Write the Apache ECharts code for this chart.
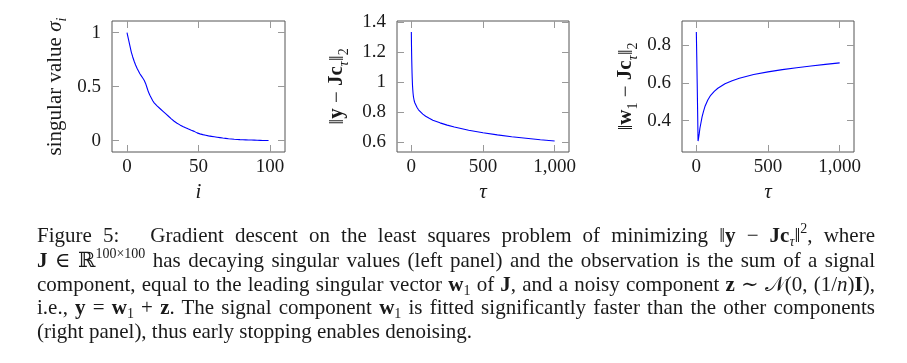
<!DOCTYPE html>
<html><head><meta charset="utf-8">
<script src="https://cdn.jsdelivr.net/npm/echarts@6/dist/echarts.min.js"></script>
<style>
html,body{margin:0;padding:0;background:#fff;}
#chart{position:absolute;left:0;top:0;width:907px;height:363px;}
.cap{position:absolute;left:37px;width:838px;font-family:'Liberation Serif','DejaVu Serif',serif;font-size:21px;line-height:24px;color:#1a1a1a;white-space:nowrap;}
.cap .t{display:inline-block;}
.cap sub,.cap sup{line-height:0;font-size:14px;}
.cap sub{vertical-align:-4px;}
.cap sup{vertical-align:9px;}
.cap .q{display:inline-block;width:20px;}
</style>
</head><body>
<div id="chart"></div>
<div class="cap j" style="top:223px"><span class="t">Figure 5:<span class="q"></span> Gradient descent on the least squares problem of minimizing ‖<b>y</b> − <b>Jc</b><sub><i>τ</i></sub>‖<sup>2</sup>, where</span></div>
<div class="cap j" style="top:248px"><span class="t"><b>J</b> ∈ ℝ<sup>100×100</sup> has decaying singular values (left panel) and the observation is the sum of a signal</span></div>
<div class="cap j" style="top:272px"><span class="t">component, equal to the leading singular vector <b>w</b><sub>1</sub> of <b>J</b>, and a noisy component <b>z</b> ∼ 𝒩(0, (1/<i>n</i>)<b>I</b>),</span></div>
<div class="cap j" style="top:295px"><span class="t">i.e., <b>y</b> = <b>w</b><sub>1</sub> + <b>z</b>. The signal component <b>w</b><sub>1</sub> is fitted significantly faster than the other components</span></div>
<div class="cap" style="top:319px"><span class="t">(right panel), thus early stopping enables denoising.</span></div>
<script>
// ---- data ----
const sigmaValues = [1.00,0.94,0.88,0.82,0.775,0.735,0.70,0.67,0.645,0.62,
0.60,0.58,0.56,0.53,0.49,0.45,0.42,0.395,0.37,0.35,
0.335,0.322,0.31,0.298,0.286,0.274,0.262,0.25,0.238,0.226,
0.214,0.202,0.191,0.18,0.17,0.161,0.153,0.146,0.139,0.132,
0.125,0.119,0.113,0.107,0.101,0.096,0.091,0.086,0.077,0.072,
0.067,0.063,0.059,0.056,0.053,0.050,0.047,0.044,0.042,0.040,
0.038,0.036,0.034,0.032,0.030,0.028,0.026,0.024,0.023,0.021,
0.020,0.018,0.017,0.016,0.014,0.013,0.012,0.011,0.010,0.0095,
0.009,0.0085,0.008,0.0075,0.007,0.0065,0.006,0.0055,0.005,0.0045,
0.004,0.0036,0.0032,0.0028,0.0024,0.002,0.0017,0.0014,0.0012,0.001];

const residTau = [0,1,2,3,4,5,6,8,10,12,15,20,25,30,40,50,60,80,100,125,150,200,250,300,400,500,600,700,800,900,1000];
const residValues = [1.333,1.25,1.19,1.14,1.10,1.06,1.03,0.98,0.95,0.925,0.90,0.875,0.86,0.848,0.83,0.815,0.803,0.786,0.772,0.758,0.746,0.728,0.713,0.700,0.679,0.662,0.648,0.636,0.626,0.616,0.607];

const signalTau = [0,3,6,9,12,15,20,25,30,40,50,60,80,100,125,150,200,250,300,400,500,600,700,800,900,1000];
const signalValues = [0.871,0.74,0.60,0.45,0.292,0.305,0.33,0.36,0.38,0.42,0.45,0.475,0.51,0.535,0.556,0.572,0.596,0.612,0.625,0.645,0.659,0.671,0.681,0.690,0.699,0.707];

const ticks1X = [0,50,100], ticks1Y = [0,0.5,1];
const ticks2X = [0,500,1000], ticks2Y = [0.6,0.8,1,1.2,1.4];
const ticks3X = [0,500,1000], ticks3Y = [0.4,0.6,0.8];

// ---- chart ----
const FONT = "'Liberation Serif','DejaVu Serif',serif";
const rich = {
  n:{fontFamily:FONT,fontSize:21,lineHeight:28,color:'#1a1a1a'},
  it:{fontFamily:FONT,fontSize:21,lineHeight:28,fontStyle:'italic',color:'#1a1a1a'},
  b:{fontFamily:FONT,fontSize:21,lineHeight:28,fontWeight:'bold',color:'#1a1a1a'},
  sub:{fontFamily:FONT,fontSize:14,lineHeight:17,verticalAlign:'bottom',color:'#1a1a1a'},
  subit:{fontFamily:FONT,fontSize:14,lineHeight:17,verticalAlign:'bottom',fontStyle:'italic',color:'#1a1a1a'}
};
const fmt = v => v >= 1000 ? v.toLocaleString('en-US') : String(v);
const grids = [
  {left:112,top:21,width:173,height:131},
  {left:397,top:21,width:172,height:131},
  {left:682,top:21,width:172,height:131}
].map(g => Object.assign(g,{show:true,borderColor:'#555',borderWidth:1,containLabel:false}));

function axis(gi, pos, min, max, ticks, labels, name, gap){
  return {
    type:'value', gridIndex:gi, position:pos, min:min, max:max,
    splitLine:{show:false},
    axisLine:{show:false, onZero:false},
    axisTick:{show:true, inside:true, length:7, customValues:ticks, lineStyle:{color:'#999',width:1}},
    axisLabel:{show:labels, customValues:ticks, formatter:fmt, fontFamily:FONT, fontSize:19, color:'#1a1a1a',
               margin:(pos==='left'||pos==='right')?11:6},
    name: name || '', nameLocation:'middle', nameGap: gap || 0,
    nameRotate: (pos==='left') ? 90 : 0,
    nameTextStyle:{rich:rich}
  };
}
const xAxes = [
  axis(0,'bottom',-10.5,110.5,ticks1X,true,'{it|i}',26),
  axis(0,'top',-10.5,110.5,ticks1X,false),
  axis(1,'bottom',-100,1100,ticks2X,true,'{it|τ}',26),
  axis(1,'top',-100,1100,ticks2X,false),
  axis(2,'bottom',-100,1100,ticks3X,true,'{it|τ}',26),
  axis(2,'top',-100,1100,ticks3X,false)
];
const yAxes = [
  axis(0,'left',-0.105,1.108,ticks1Y,true,'{n|singular value }{it|σ}{subit|i}',43),
  axis(0,'right',-0.105,1.108,ticks1Y,false),
  axis(1,'left',0.534,1.406,ticks2Y,true,'{n|‖}{b|y}{n| − }{b|Jc}{subit|τ}{n|‖}{sub|2}',46),
  axis(1,'right',0.534,1.406,ticks2Y,false),
  axis(2,'left',0.234,0.929,ticks3Y,true,'{n|‖}{b|w}{sub|1}{n| − }{b|Jc}{subit|τ}{n|‖}{sub|2}',42),
  axis(2,'right',0.234,0.929,ticks3Y,false)
];
function line(xi, yi, data){
  return {type:'line', xAxisIndex:xi, yAxisIndex:yi, data:data, showSymbol:false, symbol:'none',
          lineStyle:{color:'#0000ff', width:1.1}, itemStyle:{color:'#0000ff'}, animation:false, clip:true};
}
const chart = echarts.init(document.getElementById('chart'), null, {renderer:'canvas'});
chart.setOption({
  animation:false,
  grid:grids,
  xAxis:xAxes,
  yAxis:yAxes,
  series:[
    line(0,0, sigmaValues.map((v,i)=>[i,v])),
    line(2,2, residTau.map((t,k)=>[t,residValues[k]])),
    line(4,4, signalTau.map((t,k)=>[t,signalValues[k]]))
  ]
});

// justify caption lines
document.querySelectorAll('.cap.j').forEach(d => {
  const s = d.querySelector('.t');
  s.style.wordSpacing = '0px';
  const w = s.getBoundingClientRect().width;
  const n = (s.textContent.match(/ /g) || []).length;
  if (n > 0) s.style.wordSpacing = ((838 - w) / n) + 'px';
});
</script>
</body></html>
